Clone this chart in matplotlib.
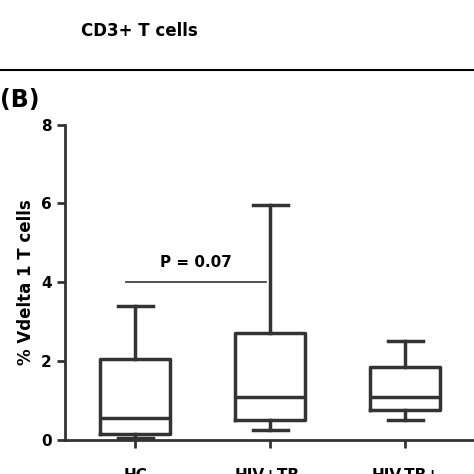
import matplotlib.pyplot as plt

groups = ['HC', 'HIV+TB-', 'HIV-TB+']
whislo = [0.05, 0.25, 0.5]
q1 = [0.15, 0.5, 0.75]
med = [0.55, 1.1, 1.1]
q3 = [2.05, 2.7, 1.85]
whishi = [3.4, 5.95, 2.5]
p_text = 'P = 0.07'
p_y = 4.0

col = '#333333'
fig = plt.figure(figsize=(4.74, 4.74), dpi=100)
ax = fig.add_axes([0.137, 0.072, 0.863, 0.665])

stats = [dict(label=g, whislo=a, q1=b, med=c, q3=d, whishi=e)
         for g, a, b, c, d, e in zip(groups, whislo, q1, med, q3, whishi)]
lp = dict(color=col, linewidth=2.5)
ax.bxp(stats, positions=range(len(groups)), widths=0.52, showfliers=False,
       boxprops=lp, medianprops=lp, whiskerprops=lp, capprops=lp)

ax.plot([-0.07, 0.97], [p_y, p_y], color=col, linewidth=1.2)
ax.text(0.45, p_y + 0.3, p_text, ha='center', va='bottom', fontsize=11, fontweight='bold')

ax.set_xlim(-0.52, 2.51)
ax.set_ylim(0, 8)
ax.set_yticks([0, 2, 4, 6, 8])
ax.set_xticks(range(len(groups)))
ax.set_xticklabels(groups, fontweight='bold', fontsize=11)
for t in ax.get_yticklabels():
    t.set_fontweight('bold')
ax.tick_params(labelsize=11, width=2, length=6, color=col)
ax.tick_params(axis='x', pad=14)
ax.set_ylabel('% Vdelta 1 T cells', fontweight='bold', fontsize=12)
for s in ['top', 'right']:
    ax.spines[s].set_visible(False)
for s in ['left', 'bottom']:
    ax.spines[s].set_linewidth(2)
    ax.spines[s].set_color(col)

fig.text(0.17, 0.935, 'CD3+ T cells', fontsize=12, fontweight='bold', va='center')
fig.add_artist(plt.Line2D([0, 1], [0.852, 0.852], color='black', linewidth=1.5))
fig.text(0.0, 0.79, '(B)', fontsize=17, fontweight='bold', va='center')

fig.savefig('out.png', dpi=100)
